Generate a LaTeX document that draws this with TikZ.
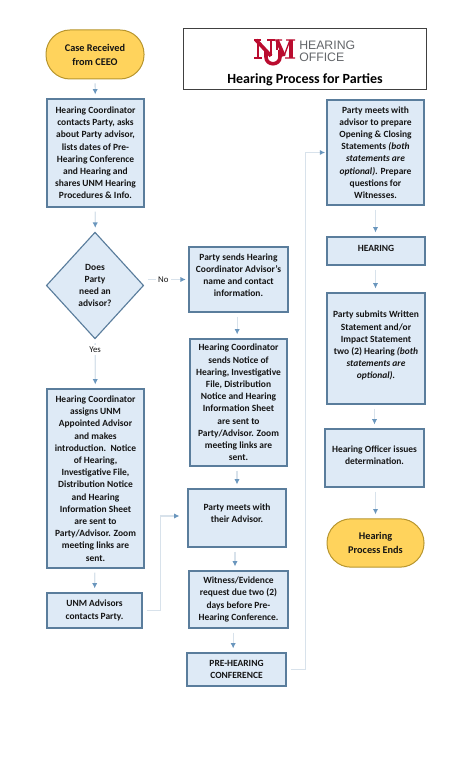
\documentclass[tikz,border=0pt]{standalone}
\usepackage{fontspec}
\setmainfont{Carlito}
\newfontfamily\logofont{Liberation Sans}
\usepackage{tikz}
\usetikzlibrary{arrows.meta}
\usetikzlibrary{shapes.geometric}
\definecolor{hp-fill}{HTML}{DEEAF6}
\definecolor{hp-edge}{HTML}{5A7D9C}
\definecolor{hp-line}{HTML}{D8E2EB}
\definecolor{hp-tip}{HTML}{6A96BD}
\definecolor{hp-oval}{HTML}{FFD35C}
\definecolor{hp-ovaledge}{HTML}{B8962E}
\definecolor{hp-red}{HTML}{BA0C2F}
\definecolor{hp-grey}{HTML}{63666A}
\definecolor{hp-text}{HTML}{141414}
\begin{document}
\begin{tikzpicture}[x=0.75pt, y=-0.75pt,
    font=\bfseries\fontsize{7.1}{9.15}\selectfont,
    text=hp-text
  ]

  % Global Style Definitions
  \tikzset{
    box/.style={draw=hp-edge, line width=0.85pt, fill=hp-fill, inner sep=0pt, align=center},
    oval/.style={draw=hp-ovaledge, line width=0.75pt, fill=hp-oval, rounded corners=18pt, inner sep=0pt, align=center, font=\bfseries\fontsize{7.7}{10.5}\selectfont},
    choice/.style={draw=hp-edge, line width=0.85pt, fill=hp-fill, diamond, inner sep=0pt, aspect=0.91, align=center},
    link/.style={draw=hp-line, line width=1pt, -{Latex[length=4pt,width=4pt,color=hp-tip]}, shorten >=3pt, shorten <=3pt},
    tag/.style={fill=white, inner sep=1.5pt, font=\fontsize{6.6}{8}\selectfont},
    thinstroke/.style={draw=hp-red, line width=1pt},
    thickstroke/.style={draw=hp-red, line width=2.7pt}
  }

  \useasboundingbox (0,0) rectangle (474,780);

  % Left column
  \node (received) [oval, minimum width=73.5pt, minimum height=36.75pt] at (95,54.5) {Case Received\\from CEEO};
  \node (contacts) [box, minimum width=72.75pt, minimum height=81pt] at (95.5,153) {Hearing Coordinator\\contacts Party, asks\\about Party advisor,\\lists dates of Pre-\\Hearing Conference\\and Hearing and\\shares UNM Hearing\\Procedures \& Info.};
  \node (needs) [choice, minimum width=73pt, minimum height=80pt] at (95,285.5) {Does\\Party\\need an\\advisor?};
  \node (assigns) [box, minimum width=72.75pt, minimum height=134.25pt] at (95.5,478.5) {Hearing Coordinator\\assigns UNM\\Appointed Advisor\\and makes\\introduction.\ \ Notice\\of Hearing,\\Investigative File,\\Distribution Notice\\and Hearing\\Information Sheet\\are sent to\\Party/Advisor. Zoom\\meeting links are\\sent.};
  \node (advisors) [box, minimum width=71.25pt, minimum height=26.25pt] at (94.5,610.5) {UNM Advisors\\contacts Party.};

  % Middle column
  \node (sends) [box, minimum width=74.25pt, minimum height=48.75pt] at (238.5,279.5) {Party sends Hearing\\Coordinator Advisor's\\name and contact\\information.\\[-2.4pt]};
  \node (notice) [box, minimum width=72.75pt, minimum height=95.25pt] at (238.5,402.5) {Hearing Coordinator\\sends Notice of\\Hearing, Investigative\\File, Distribution\\Notice and Hearing\\Information Sheet\\are sent to\\Party/Advisor. Zoom\\meeting links are\\sent.};
  \node (meets) [box, minimum width=73.5pt, minimum height=43.5pt] at (237,518) {Party meets with\\their Advisor.\\[-2.4pt]};
  \node (witness) [box, minimum width=74.25pt, minimum height=42.75pt] at (238.5,599.5) {Witness/Evidence\\request due two (2)\\days before Pre-\\Hearing Conference.};
  \node (prehearing) [box, minimum width=74.25pt, minimum height=24.75pt] at (236.5,669.5) {PRE-HEARING\\CONFERENCE};

  % Right column
  \node (prepare) [box, minimum width=72.75pt, minimum height=78.75pt] at (375.5,152.5) {Party meets with\\advisor to prepare\\Opening \& Closing\\Statements \textit{(both}\\\textit{statements are}\\\textit{optional).} Prepare\\questions for\\Witnesses.};
  \node (hearing) [box, minimum width=73.5pt, minimum height=21pt] at (376,251) {HEARING\\[-4.65pt]};
  \node (submits) [box, minimum width=73.5pt, minimum height=83.25pt] at (376,348.5) {Party submits Written\\Statement and/or\\Impact Statement\\two (2) Hearing \textit{(both}\\\textit{statements are}\\\textit{optional).}\\[-3.9pt]};
  \node (officer) [box, minimum width=74.25pt, minimum height=43.5pt] at (374.5,458) {Hearing Officer issues\\determination.\\[-4.65pt]};
  \node (ends) [oval, minimum width=72.75pt, minimum height=36.25pt] at (375.5,543) {Hearing\\Process Ends};

  % Header with the logo
  \node (header) [draw=black!75, line width=0.9pt, minimum width=182pt, minimum height=45.5pt] at (305,59) {};
  \node (title) [font=\bfseries\fontsize{10.5}{12}\selectfont, text=black] at (305,80) {Hearing Process for Parties};
  \node (office) [font=\logofont\fontsize{9.2}{9}\selectfont, text=hp-grey, align=left, anchor=west, inner sep=0pt] at (299,51) {HEARING\\OFFICE};
  % N
  \draw[thinstroke] (254,40) -- (261,40) (258,40) -- (258,58) (254,58) -- (262,58) (267,40) -- (275,40);
  \draw[thickstroke] (256,40) -- (271,56);
  % M
  \draw[thinstroke] (275,40) -- (282,40) (286,40) -- (295,40) (285,58) -- (295,58) (284,56) -- (290,40);
  \draw[thickstroke] (277,40) -- (284,56) (291,40) -- (291,58);
  % U
  \draw[thinstroke] (271,40) -- (271,56) (277,40) -- (277,50);
  \draw[thickstroke] (266,50) -- (266,57) .. controls (266,66) and (280,66) .. (280,57) -- (280,50);

  % Connectors
  \draw[link] (received) -- (contacts);
  \draw[link] (contacts) -- (needs);
  \draw[link] (needs) -- node[tag, pos=0.22] {Yes} (assigns);
  \draw[link] (needs.east |- sends.west) -- node[tag, pos=0.42] {No} ([xshift=1pt]sends.west);
  \draw[link] ([xshift=-1pt]sends.south) -- ([xshift=-1pt]sends.south |- notice.north);
  \draw[link] (meets.north |- notice.south) -- (meets.north);
  \draw[link] ([xshift=-1.5pt]meets.south) -- ([xshift=-1.5pt]meets.south |- witness.north);
  \draw[link] ([xshift=-2.5pt]prehearing.north |- witness.south) -- ([xshift=-2.5pt]prehearing.north);
  \draw[link] (assigns) -- (advisors);
  \draw[link, shorten >=6pt] (advisors.east) -- ++(18,0) |- ([yshift=1.5pt]meets.west);
  \draw[link, shorten >=1pt] (prehearing.east) -- ++(19,0) |- (prepare.west);
  \draw[link] (prepare.south) -- (prepare.south |- hearing.north);
  \draw[link] (hearing.south -| prepare.south) -- (prepare.south |- submits.north);
  \draw[link] (officer.north |- submits.south) -- (officer.north);
  \draw[link] (officer.south -| ends.north) -- (ends.north);

\end{tikzpicture}
\end{document}
